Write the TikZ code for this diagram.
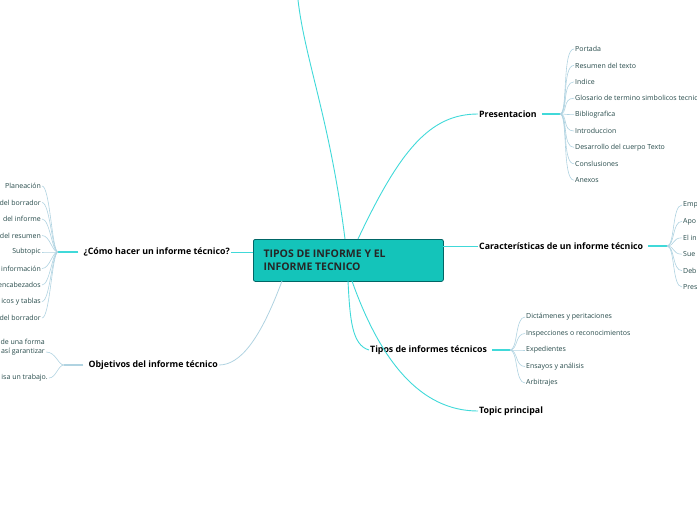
\documentclass[tikz,border=0pt]{standalone}
\usepackage{fontspec}
\setmainfont{Open Sans}
\begin{document}
\begin{tikzpicture}[x=1pt,y=-1pt,
  main/.style={draw=none,font=\fontsize{8.8}{10}\selectfont\bfseries,inner sep=1pt},
  leafR/.style={font=\fontsize{7}{8.5}\selectfont,text=black!60!teal!70!gray,anchor=west,inner sep=1pt},
  leafL/.style={font=\fontsize{7}{8.5}\selectfont,text=black!60!teal!70!gray,anchor=east,inner sep=1pt,align=right},
  mline/.style={draw=teal!40!cyan!75,line width=0.9pt},
  sline/.style={draw=cyan!30!teal!35,line width=0.6pt}]
\useasboundingbox (0,0) rectangle (697,520);
\definecolor{tc}{HTML}{14C4BA}
\node[draw=teal!80!black,fill=tc,rounded corners=2pt,line width=0.8pt,minimum width=190,minimum height=42,anchor=north west,inner sep=0] (c) at (253,239) {};
\node[anchor=west,align=left,font=\fontsize{10.5}{13.5}\selectfont\bfseries,text=black!85] (ct) at (260,260) {TIPOS DE INFORME Y EL\\INFORME TECNICO};
\coordinate (top) at (298,0);
\draw[mline] (345,239) .. controls (330,120) and (305,60) .. (top);
% Presentacion
\node[main,anchor=west] (p) at (478,114) {Presentacion};
\draw[mline] (358,239) .. controls (400,150) and (430,114) .. (p.west);
\coordinate (pj) at (560,114);
\draw[mline,line width=1.5pt] ([xshift=4pt]p.east) -- (pj);
\foreach \t [count=\i] in {Portada,Resumen del texto,Indice,Glosario de termino simbolicos tecnicos,Bibliografica,Introduccion,Desarrollo del cuerpo Texto,Conslusiones,Anexos}{
  \node[leafR] (p\i) at (574,{49+16.4*(\i-1)}) {\t};
  \draw[sline] (pj) .. controls (568,114) and (562,{49+16.4*(\i-1)}) .. (p\i.west);
}
% Caracteristicas
\node[main,anchor=west] (k) at (478,246) {Características de un informe técnico};
\draw[mline] (443,246) -- (k.west);
\coordinate (kj) at (667,246);
\draw[mline,line width=1.5pt] ([xshift=4pt]k.east) -- (kj);
\foreach \t [count=\i] in {Emp,Apo,El in,Sue,Deb,Pres}{
  \node[leafR] (k\i) at (682,{205+16.4*(\i-1)}) {\t};
  \draw[sline] (kj) .. controls (675,246) and (672,{205+16.4*(\i-1)}) .. (k\i.west);
}
% Tipos
\node[main,anchor=west] (t) at (369,350) {Tipos de informes técnicos};
\draw[mline] (348,281) .. controls (350,320) and (352,345) .. (t.west);
\coordinate (tj) at (510,350);
\draw[mline,line width=1.5pt] ([xshift=4pt]t.east) -- (tj);
\foreach \t [count=\i] in {Dictámenes y peritaciones,Inspecciones o reconocimientos,Expedientes,Ensayos y análisis,Arbitrajes}{
  \node[leafR] (t\i) at (525,{317+16.5*(\i-1)}) {\t};
  \draw[sline] (tj) .. controls (518,350) and (515,{317+16.5*(\i-1)}) .. (t\i.west);
}
% Topic principal
\node[main,anchor=west] (tp) at (478,411) {Topic principal};
\draw[mline] (352,281) .. controls (380,360) and (420,411) .. (tp.west);
% Como hacer
\node[main,anchor=east] (h) at (231,252) {¿Cómo hacer un informe técnico?};
\draw[mline] (253,252) -- (h.east);
\coordinate (hj) at (58,252);
\draw[mline,line width=1.5pt] ([xshift=-4pt]h.west) -- (hj);
\foreach \t [count=\i] in {Planeación,del borrador,del informe,del resumen,Subtopic,información,encabezados,icos y tablas,del borrador}{
  \node[leafL] (h\i) at (42,{186+16.5*(\i-1)}) {\t};
  \draw[sline] (hj) .. controls (52,252) and (50,{186+16.5*(\i-1)}) .. (h\i.east);
}
% Objetivos
\node[main,anchor=east] (o) at (219,365) {Objetivos del informe técnico};
\draw[sline,line width=0.8pt] (282,281) .. controls (260,340) and (240,365) .. (o.east);
\coordinate (oj) at (64,365);
\draw[sline,line width=1.2pt] ([xshift=-4pt]o.west) -- (oj);
\node[leafL] (o1) at (46,347) {de una forma\\así garantizar};
\node[leafL] (o2) at (49,378) {isa un trabajo.};
\draw[sline] (oj) .. controls (58,365) and (56,352) .. (o1.east|-0,352);
\draw[sline] (oj) .. controls (58,365) and (56,378) .. (o2.east);
\end{tikzpicture}
\end{document}
